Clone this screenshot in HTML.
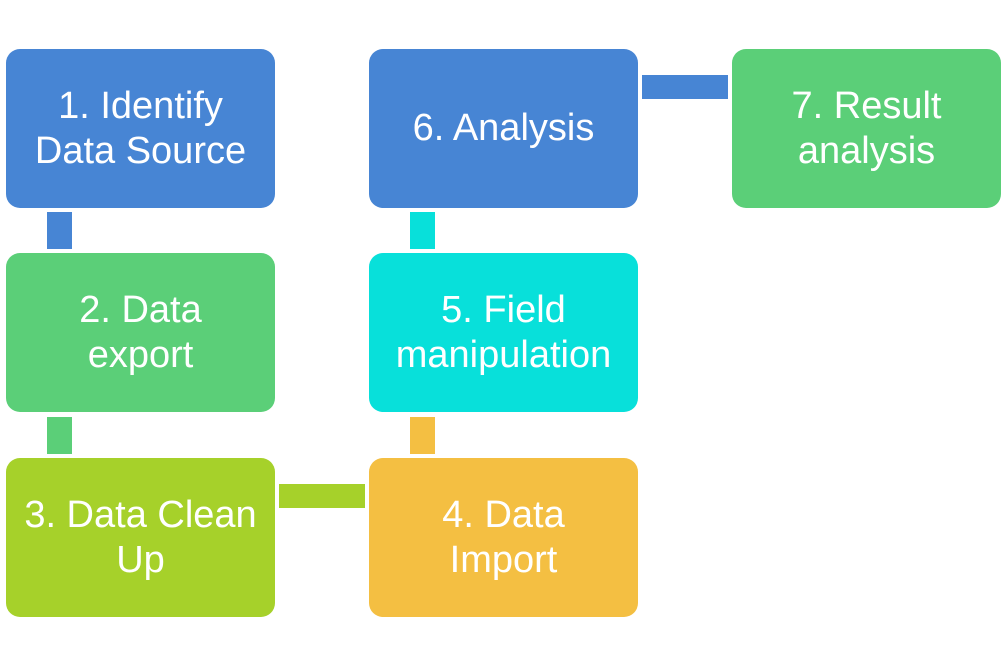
<!DOCTYPE html>
<html><head><meta charset="utf-8"><style>
body{margin:0;width:1005px;height:667px;background:#fff;position:relative;overflow:hidden;font-family:"Liberation Sans",sans-serif}
.b{position:absolute;width:269px;height:159px;border-radius:14px;color:#fff;display:flex;align-items:center;justify-content:center;text-align:center;font-size:38px;line-height:45px}
.c{position:absolute}
</style></head><body>
<div class="b" style="left:6px;top:49px;background:#4785D4">1. Identify<br>Data Source</div>
<div class="b" style="left:6px;top:253px;background:#5BCF78">2. Data<br>export</div>
<div class="b" style="left:6px;top:458px;background:#A6D12A">3. Data Clean<br>Up</div>
<div class="b" style="left:369px;top:458px;background:#F4BF42">4. Data<br>Import</div>
<div class="b" style="left:369px;top:253px;background:#08E0DA">5. Field<br>manipulation</div>
<div class="b" style="left:369px;top:49px;background:#4785D4">6. Analysis</div>
<div class="b" style="left:732px;top:49px;background:#5BCF78">7. Result<br>analysis</div>
<div class="c" style="left:47px;top:212px;width:25px;height:37px;background:#4785D4"></div>
<div class="c" style="left:47px;top:417px;width:25px;height:37px;background:#5BCF78"></div>
<div class="c" style="left:279px;top:484px;width:86px;height:24px;background:#A6D12A"></div>
<div class="c" style="left:410px;top:417px;width:25px;height:37px;background:#F4BF42"></div>
<div class="c" style="left:410px;top:212px;width:25px;height:37px;background:#08E0DA"></div>
<div class="c" style="left:642px;top:75px;width:86px;height:24px;background:#4785D4"></div>
</body></html>
